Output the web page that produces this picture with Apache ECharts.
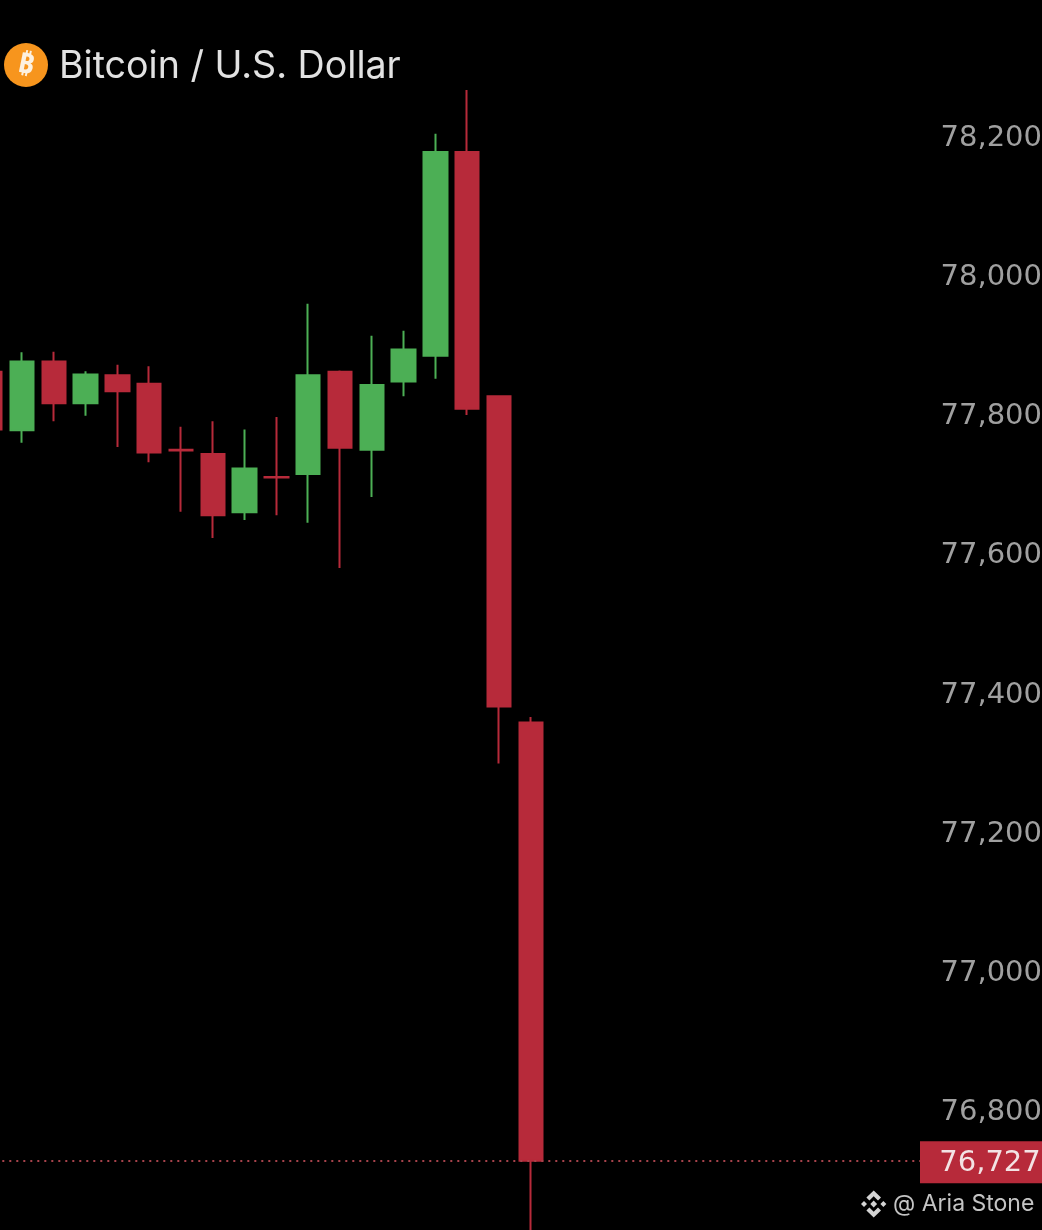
<!DOCTYPE html>
<html>
<head>
<meta charset="utf-8">
<style>html,body{margin:0;padding:0;background:#000}#c{width:1042px;height:1230px}</style>
<script src="https://cdn.jsdelivr.net/npm/echarts@6/dist/echarts.min.js"></script>
</head>
<body>
<div id="c"></div>
<script>
const titleText = 'Bitcoin / U.S. Dollar';
const watermarkText = '@ Aria Stone';
const lastPrice = 76727;
const slots = Array.from({length: 34}, (_, i) => String(i));
const opens  = [77861,77777,77876,77816,77856,77844,77749,77743,77659,77710,77714,77861,77749,77847,77884,78177,77826,77357];
const closes = [77778,77876,77816,77857,77833,77745,77748,77655,77722,77709,77856,77752,77842,77893,78177,77808,77380,lastPrice];
const lows   = [77778,77759,77790,77798,77753,77731,77660,77622,77648,77655,77644,77579,77681,77826,77851,77799,77298,76620];
const highs  = [77861,77889,77890,77862,77871,77869,77782,77790,77778,77796,77959,77863,77913,77920,78203,78266,77826,77365];

const RED = '#b72a3a', GREEN = '#4caf55';
const candles = opens.map((o, i) => [o, closes[i], lows[i], highs[i]]);
const poly = pts => ({type: 'polygon', shape: {points: pts}, style: {fill: '#d4d4d4'}});
const chart = echarts.init(document.getElementById('c'), null, {renderer: 'canvas'});
chart.setOption({
  animation: false,
  backgroundColor: '#000',
  title: {
    text: titleText, left: 54, top: 43,
    textStyle: {color: '#e2e2e2', fontFamily: 'Inter', fontSize: 37.6, fontWeight: 400}
  },
  grid: {left: -25.7, top: -3.2, width: 1081.2, height: 1252.4, containLabel: false, outerBoundsMode: 'none'},
  xAxis: {type: 'category', data: slots, show: false, boundaryGap: true},
  yAxis: {
    type: 'value', position: 'right', min: 76600, max: 78400, interval: 200, scale: true,
    axisLine: {show: false}, axisTick: {show: false}, splitLine: {show: false},
    axisLabel: {
      inside: true, margin: 13.5, showMinLabel: false, showMaxLabel: false,
      verticalAlign: 'top', lineHeight: 5,
      color: '#a0a0a0', fontFamily: 'DejaVu Sans', fontSize: 29,
      formatter: v => v.toLocaleString('en-US')
    }
  },
  series: [{
    type: 'candlestick',
    data: candles,
    barWidth: 24,
    itemStyle: {color: GREEN, color0: RED, borderColor: GREEN, borderColor0: RED, borderWidth: 2},
    markLine: {
      silent: true, symbol: 'none', animation: false,
      label: {show: false},
      lineStyle: {color: '#a8434c', type: [2, 5], width: 2},
      data: [{yAxis: lastPrice}]
    },
    markPoint: {
      silent: true, animation: false,
      data: [{
        coord: ['32', lastPrice],
        symbol: 'rect', symbolSize: [122, 42], symbolOffset: [-26.8, 1.5],
        itemStyle: {color: RED},
        label: {
          show: true, position: 'inside', offset: [9, 1.5],
          formatter: lastPrice.toLocaleString('en-US'),
          color: '#f3e3e4', fontFamily: 'DejaVu Sans', fontSize: 29
        }
      }]
    }
  }],
  graphic: [
    {type: 'circle', shape: {cx: 26, cy: 65, r: 22}, style: {fill: '#f7951d'}},
    {type: 'text', x: 26, y: 65, rotation: -0.2, style: {
      text: '\u20bf', x: 0, y: 0, fill: '#fdf1e0', font: 'bold 28px "Noto Sans"', textAlign: 'center', textVerticalAlign: 'middle'
    }},
    poly([[873.7,1190.5],[881,1197.5],[878,1200.5],[873.7,1196.3],[869.4,1200.5],[866.4,1197.5]]),
    poly([[873.7,1217.5],[881,1210.5],[878,1207.5],[873.7,1211.7],[869.4,1207.5],[866.4,1210.5]]),
    poly([[861,1204],[864,1201],[867,1204],[864,1207]]),
    poly([[880.4,1204],[883.4,1201],[886.4,1204],[883.4,1207]]),
    poly([[873.7,1200.6],[877.1,1204],[873.7,1207.4],[870.3,1204]]),
    {type: 'text', x: 893, y: 1204, style: {
      text: watermarkText, x: 0, y: 0, fill: '#c4c4c4', font: '23px Inter', textAlign: 'left', textVerticalAlign: 'middle'
    }}
  ]
});
</script>
</body>
</html>
